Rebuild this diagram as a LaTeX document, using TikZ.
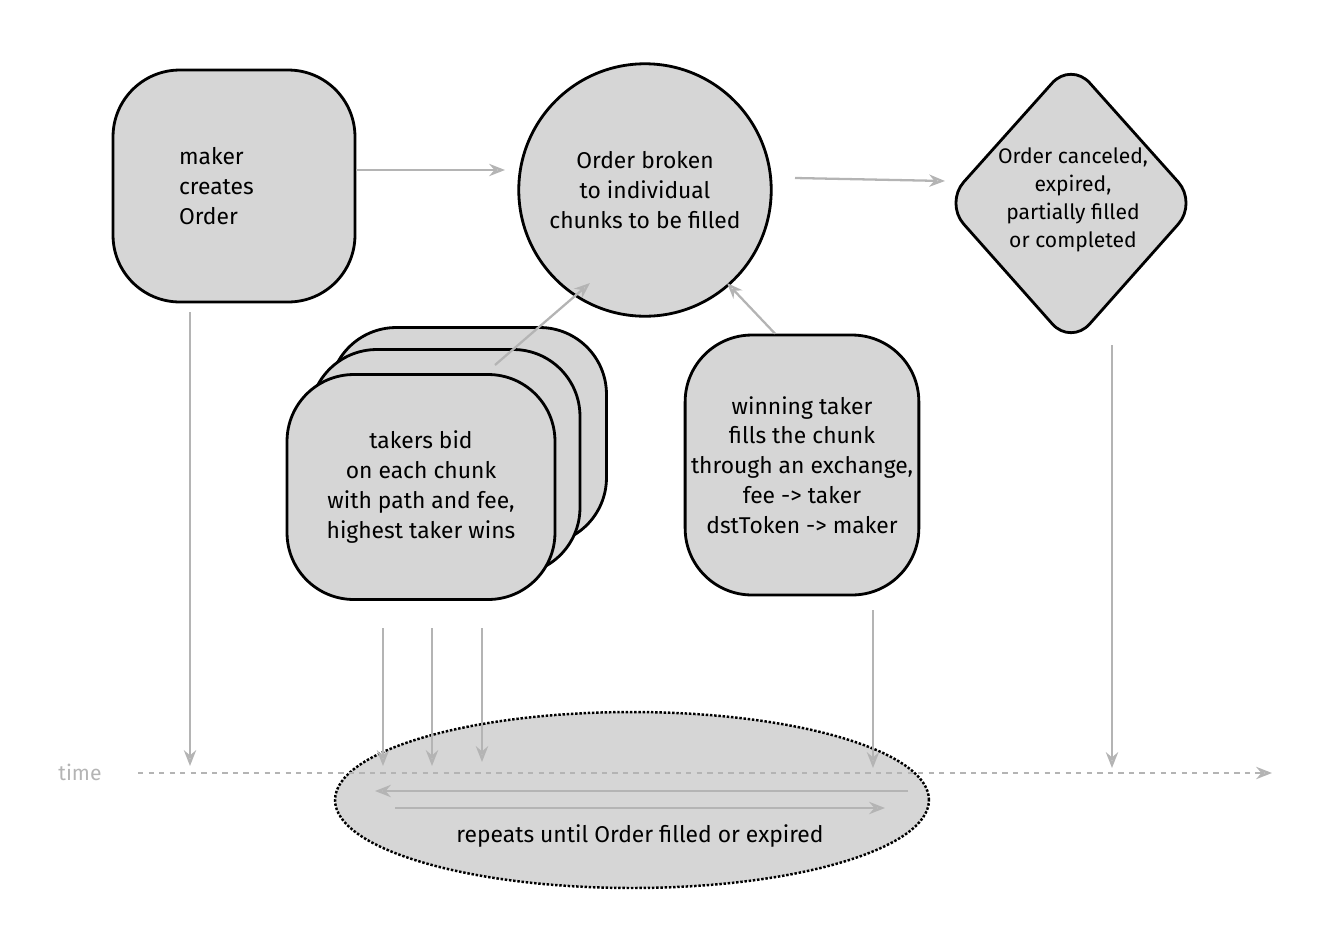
\documentclass[tikz,border=0pt]{standalone}
\usepackage{fontspec}
\setmainfont{Fira Sans}
\usetikzlibrary{shapes.geometric,arrows.meta}
\definecolor{boxgray}{HTML}{D6D6D6}
\definecolor{linegray}{HTML}{B4B4B4}
\tikzset{
  box/.style={draw, line width=1.6pt, fill=boxgray, rounded corners=38pt, align=center, font=\fontsize{13}{17}\selectfont},
  flow/.style={draw=linegray, line width=1.3pt, -{Stealth[length=9pt,width=7pt,open]}},
}
\begin{document}
\begin{tikzpicture}[x=0.02cm,y=-0.02cm]
\useasboundingbox (0,0) rectangle (1320,944);

% ellipse and time axis
\node[ellipse, draw, densely dotted, line width=1.4pt, fill=boxgray, minimum width=11.88cm, minimum height=3.52cm] (loop) at (632,800) {};
\node[font=\fontsize{13}{17}\selectfont] (looptext) at (640,836) {repeats until Order filled or expired};
\node[text=linegray, font=\fontsize{12}{15}\selectfont] (time) at (80,772) {time};
\coordinate (tstart) at (138,773);
\coordinate (tend) at (1272,773);
\draw[draw=linegray, line width=1.3pt, dashed, -{Stealth[length=9pt,width=7pt,open]}] (tstart) -- (tend);

% main nodes
\node[box, minimum width=4.84cm, minimum height=4.64cm, text width=2.2cm, align=left] (maker) at (234,186) {maker\\creates\\Order};
\node[circle, draw, line width=1.6pt, fill=boxgray, minimum size=5.05cm, align=center, font=\fontsize{13}{17}\selectfont] (chunks) at (645,190) {Order broken\\to individual\\chunks to be filled};
\draw[line width=1.6pt, fill=boxgray, rounded corners=16pt] (1071,62) -- (1197,203) -- (1071,345) -- (945,203) -- cycle;
\node[align=center, font=\fontsize{12}{16}\selectfont] (done) at (1073,200) {Order canceled,\\expired,\\partially filled\\or completed};

\node[box, minimum width=5.54cm, minimum height=4.34cm] (bid3) at (468,436) {};
\node[box, minimum width=5.4cm, minimum height=4.5cm] (bid2) at (445,462) {};
\node[box, minimum width=5.36cm, minimum height=4.5cm] (bid1) at (421,487) {takers bid\\on each chunk\\with path and fee,\\highest taker wins};
\node[box, minimum width=4.5cm, minimum height=5.2cm] (fill) at (802,465) {winning taker\\fills the chunk\\through an exchange,\\fee -> taker\\dstToken -> maker};

% flow arrows
\draw[flow] (maker.east|-0,170) -- (505,170);
\draw[flow] (795,178) -- (945,181);
\draw[flow] (495,365) -- (590,283);
\draw[flow] (fill.north) ++(-27,0) -- (727,283);

% arrows down to the time axis
\draw[flow] (190,312) -- (190,766);
\draw[flow] (383,628) -- (383,766);
\draw[flow] (432,628) -- (432,766);
\draw[flow] (482,628) -- (482,762);
\draw[flow] (873,610) -- (873,768);
\draw[flow] (1112,345) -- (1112,768);

% repeat arrows inside the loop
\draw[flow] (908,791) -- (375,791);
\draw[flow] (395,808) -- (885,808);
\end{tikzpicture}
\end{document}
